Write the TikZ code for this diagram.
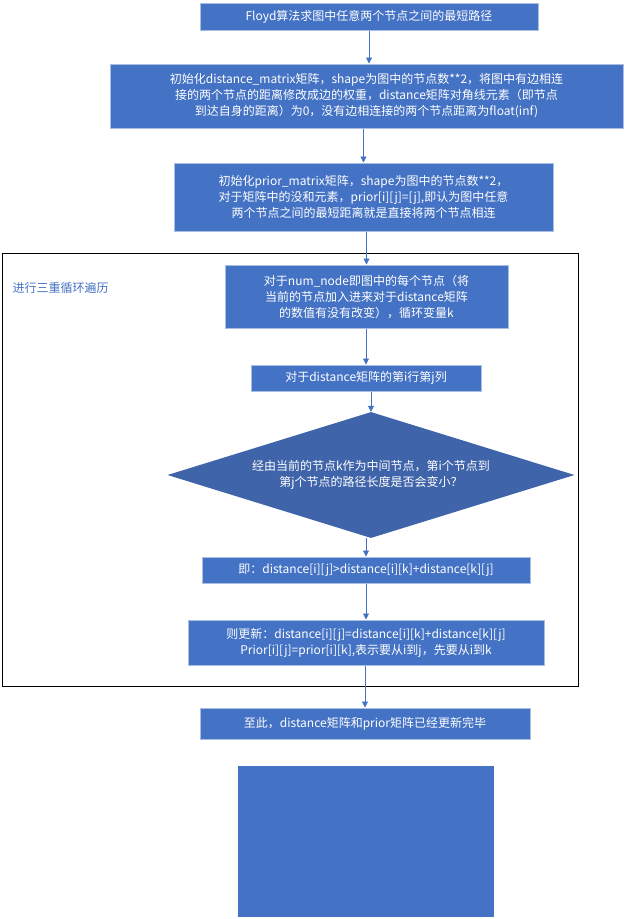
\documentclass[tikz,border=0pt]{standalone}
\usepackage{fontspec}
\setmainfont{Noto Sans CJK SC}
\usetikzlibrary{shapes.geometric,arrows.meta}
\definecolor{bfill}{HTML}{4472C4}
\definecolor{bline}{HTML}{A9BEE3}
\definecolor{dfill}{HTML}{3F64AA}
\tikzset{
 box/.style={draw=bline,line width=1pt,fill=bfill,text=white,align=center,inner sep=0pt,font=\fontsize{12}{16}\selectfont},
 arr/.style={draw=bfill,line width=0.8pt,-{Triangle[length=6pt,width=6pt]}}
}
\begin{document}
\begin{tikzpicture}[x=1pt,y=-1pt]
\useasboundingbox (0,0) rectangle (626,919);
\node[box,minimum width=338pt,minimum height=27pt] (b1) at (369,16.5) {Floyd算法求图中任意两个节点之间的最短路径};
\node[box,minimum width=513pt,minimum height=64pt] (b2) at (366.5,96) {初始化distance\_matrix矩阵，shape为图中的节点数**2，将图中有边相连\\接的两个节点的距离修改成边的权重，distance矩阵对角线元素（即节点\\到达自身的距离）为0，没有边相连接的两个节点距离为float(inf)};
\node[box,minimum width=379pt,minimum height=68pt] (b3) at (363.5,197) {初始化prior\_matrix矩阵，shape为图中的节点数**2，\\对于矩阵中的没和元素，prior[i][j]=[j],即认为图中任意\\两个节点之间的最短距离就是直接将两个节点相连};
\draw[black,line width=0.8pt] (2,253) rectangle (578,686);
\node[text=bfill,anchor=west,font=\fontsize{12}{14}\selectfont] (lab) at (9,288) {进行三重循环遍历};
\node[box,minimum width=283pt,minimum height=63pt] (b4) at (366.5,296.5) {对于num\_node即图中的每个节点（将\\当前的节点加入进来对于distance矩阵\\的数值有没有改变），循环变量k};
\node[box,minimum width=230pt,minimum height=26pt] (b5) at (366,378) {对于distance矩阵的第i行第j列};
\node[diamond,fill=dfill,text=white,align=center,inner sep=0pt,minimum width=407pt,minimum height=126pt,aspect=3.2,font=\fontsize{12}{16}\selectfont] (b6) at (371,475) {经由当前的节点k作为中间节点，第i个节点到\\第j个节点的路径长度是否会变小？};
\node[box,minimum width=328pt,minimum height=26pt] (b7) at (366,570) {即：distance[i][j]>distance[i][k]+distance[k][j]};
\node[box,minimum width=356pt,minimum height=45pt] (b8) at (366,642.5) {则更新：distance[i][j]=distance[i][k]+distance[k][j]\\Prior[i][j]=prior[i][k],表示要从i到j，先要从i到k};
\node[box,minimum width=330pt,minimum height=31pt] (b9) at (365,723.5) {至此，distance矩阵和prior矩阵已经更新完毕};
\node[box,draw=none,minimum width=256pt,minimum height=151pt] (b10) at (366,841.5) {};
\draw[arr] (b1) -- (b1|-b2.north);
\draw[arr] (b2.south-|b3) -- (b3);
\draw[arr] (b3.south-|b4) -- (b4);
\draw[arr] (b4.south-|b5) -- (b5);
\draw[arr] (b5.south-|b6) -- (b6);
\draw[arr] (b6.south-|b7) -- (b7);
\draw[arr] (b7) -- (b8);
\draw[arr] (b8.south-|b9) -- (b9);
\end{tikzpicture}
\end{document}
